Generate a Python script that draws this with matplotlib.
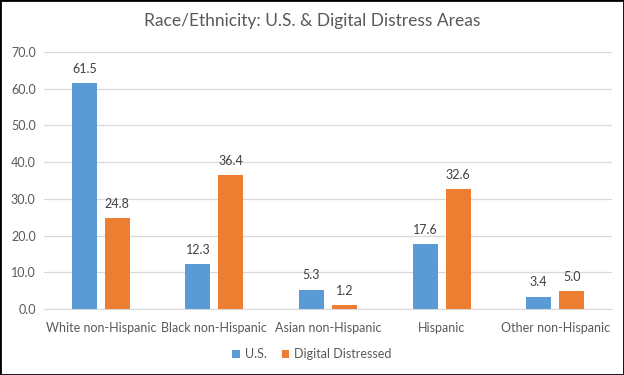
import numpy as np
import matplotlib.pyplot as plt
from matplotlib.patches import Rectangle

categories = ["White non-Hispanic", "Black non-Hispanic", "Asian non-Hispanic",
              "Hispanic", "Other non-Hispanic"]
us = [61.5, 12.3, 5.3, 17.6, 3.4]
distressed = [24.8, 36.4, 1.2, 32.6, 5.0]

plt.rcParams['font.family'] = ['Lato', 'DejaVu Sans']
textColor = "#595959"

fig = plt.figure(figsize=(6.24, 3.75), dpi=100)
ax = fig.add_axes([44 / 624, 1 - 309 / 375, (612 - 44) / 624, (309 - 52) / 375])

x = np.arange(len(categories))
w = 0.22
b1 = ax.bar(x - 0.145, us, w, color="#5B9BD5", label="U.S.", zorder=3)
b2 = ax.bar(x + 0.145, distressed, w, color="#ED7D31", label="Digital Distressed", zorder=3)

for bars, vals in [(b1, us), (b2, distressed)]:
    for bar, v in zip(bars, vals):
        ax.text(bar.get_x() + bar.get_width() / 2, v + 2.2, f"{v:.1f}",
                ha="center", va="bottom", fontsize=9, color="#404040")

ax.set_xlim(-0.5, len(categories) - 0.5)
ax.set_ylim(0, 70)
ax.set_yticks(np.arange(0, 71, 10))
ax.set_yticklabels([f"{t:.1f}" for t in np.arange(0, 71, 10)])
ax.set_xticks(x)
ax.set_xticklabels(categories)
ax.tick_params(axis="both", length=0, labelsize=9, colors=textColor)
ax.tick_params(axis="x", pad=9)
ax.tick_params(axis="y", pad=6)
ax.grid(axis="y", color="#D9D9D9", linewidth=0.9, zorder=0)
for s in ["top", "right", "left"]:
    ax.spines[s].set_visible(False)
ax.spines["bottom"].set_color("#D9D9D9")

fig.text(0.5, 1 - 21 / 375, "Race/Ethnicity: U.S. & Digital Distress Areas",
         ha="center", va="center", fontsize=12.5, color=textColor)

fig.legend(handles=[b1, b2], loc="center", bbox_to_anchor=(0.5, 1 - 354 / 375),
           ncol=2, frameon=False, fontsize=9, labelcolor=textColor,
           handlelength=0.6, handleheight=0.6, handletextpad=0.4, columnspacing=1.2)

fig.patches.append(Rectangle((0, 0), 1, 1, transform=fig.transFigure, fill=False,
                             edgecolor="black", linewidth=2))

fig.savefig("out.png", dpi=100)
